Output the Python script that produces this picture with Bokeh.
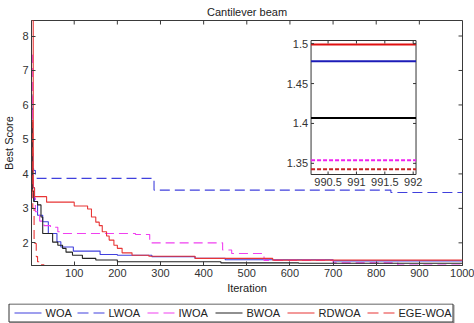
import numpy as np
from bokeh.plotting import figure
from bokeh.layouts import column
from bokeh.models import Range1d, FixedTicker
from bokeh.embed import file_html
from bokeh.resources import INLINE
from bokeh.core.properties import value

# ---------------- data (step breakpoints: iteration, best score) ----------------
series_names = ["WOA", "LWOA", "IWOA", "BWOA", "RDWOA", "EGE-WOA"]

iter_woa = [1, 2, 4, 8, 15, 27, 40, 60, 69, 98, 160, 200, 280, 380, 450, 700, 1000]
best_woa = [6.3, 4.6, 3.6, 3.2, 2.8, 2.61, 2.27, 2.03, 1.88, 1.76, 1.66, 1.64, 1.6, 1.55, 1.51, 1.478, 1.478]

iter_lwoa = [1, 3, 6, 10, 14, 285, 834, 1000]
best_lwoa = [5.9, 4.15, 4.1, 3.9, 3.87, 3.53, 3.46, 3.46]

iter_iwoa = [1, 3, 5, 10, 20, 30, 45, 62, 69, 242, 275, 444, 465, 540, 700, 850, 1000]
best_iwoa = [7.45, 4.0, 3.3, 2.9, 2.63, 2.5, 2.45, 2.32, 2.27, 2.24, 2.0, 1.79, 1.69, 1.49, 1.42, 1.354, 1.354]

iter_bwoa = [1, 3, 6, 15, 23, 27, 50, 62, 73, 81, 96, 119, 150, 200, 440, 620, 1000]
best_bwoa = [5.5, 3.5, 3.2, 3.1, 2.75, 2.27, 2.02, 1.93, 1.84, 1.73, 1.64, 1.55, 1.5, 1.45, 1.42, 1.4067, 1.4067]

iter_rdwoa = [1, 5, 8, 36, 100, 131, 140, 150, 158, 165, 175, 181, 192, 200, 211, 234, 273, 380, 560, 1000]
best_rdwoa = [8.45, 3.6, 3.34, 3.18, 3.07, 2.98, 2.75, 2.6, 2.5, 2.32, 2.2, 2.08, 1.93, 1.84, 1.71, 1.64, 1.61, 1.55, 1.499, 1.499]

iter_ege = [1, 4, 7, 12, 15, 19, 30, 1000]
best_ege = [5.55, 3.0, 1.98, 1.6, 1.45, 1.36, 1.3425, 1.3425]

x_ticks = [100, 200, 300, 400, 500, 600, 700, 800, 900, 1000]
y_ticks = [2, 3, 4, 5, 6, 7, 8]

inset_x_window = [990.2, 992.05]
inset_y_window = [1.336, 1.504]
inset_x_ticks = [990.5, 991, 991.5, 992]
inset_y_ticks = [1.35, 1.4, 1.45, 1.5]
inset_x_labels = ["990.5", "991", "991.5", "992"]
inset_y_labels = ["1.35", "1.4", "1.45", "1.5"]

# ---------------- styles ----------------
main_styles = {
    "WOA": dict(color="#4040dd", dash="solid"),
    "LWOA": dict(color="#4040dd", dash="10 5"),
    "IWOA": dict(color="#f040f0", dash="9 5"),
    "BWOA": dict(color="#222222", dash="solid"),
    "RDWOA": dict(color="#e83535", dash="solid"),
    "EGE-WOA": dict(color="#e83535", dash="9 5"),
}
inset_styles = {
    "WOA": dict(color="#1c1cb8", dash="solid"),
    "LWOA": dict(color="#1c1cb8", dash="solid"),
    "IWOA": dict(color="#f020f0", dash="4 2"),
    "BWOA": dict(color="#000000", dash="solid"),
    "RDWOA": dict(color="#e01010", dash="solid"),
    "EGE-WOA": dict(color="#c82020", dash="4 2"),
}
data = {
    "WOA": (iter_woa, best_woa),
    "LWOA": (iter_lwoa, best_lwoa),
    "IWOA": (iter_iwoa, best_iwoa),
    "BWOA": (iter_bwoa, best_bwoa),
    "RDWOA": (iter_rdwoa, best_rdwoa),
    "EGE-WOA": (iter_ege, best_ege),
}

all_vals = [v for n in series_names for v in data[n][1]]
ymin, ymax = min(all_vals), max(all_vals)
xmin, xmax = 1, 1000

W = 474
H_MAIN, H_LEG = 303, 20
BL, BR, BT, BB = 28, 12, 20, 38
FW, FH = W - BL - BR, H_MAIN - BT - BB
AX = "#3a3a3a"
FONT = "Liberation Sans"

p = figure(width=W, height=H_MAIN, x_range=Range1d(xmin, xmax), y_range=Range1d(ymin, ymax),
           output_backend="svg", toolbar_location=None,
           min_border_left=BL, min_border_right=BR, min_border_top=BT, min_border_bottom=BB,
           title="Cantilever beam")
p.frame_align = False
p.title.align = "center"
p.title.text_font = FONT
p.title.text_font_size = "11px"
p.title.text_font_style = "normal"
p.title.text_color = "#222"
p.title.standoff = 5
p.xgrid.visible = False
p.ygrid.visible = False
p.outline_line_color = AX
p.background_fill_color = "white"
p.border_fill_color = "white"

def style_axis(ax, ticks):
    ax.ticker = FixedTicker(ticks=ticks)
    ax.major_tick_in = 4
    ax.major_tick_out = 0
    ax.minor_tick_line_color = None
    ax.axis_line_color = AX
    ax.major_tick_line_color = AX
    ax.major_label_text_font = FONT
    ax.major_label_text_color = "#333"
    ax.major_label_text_font_size = "11px"
    ax.major_label_standoff = 3
    ax.axis_label_text_font = FONT
    ax.axis_label_text_font_style = "normal"
    ax.axis_label_text_color = "#222"
    ax.axis_label_text_font_size = "11px"

style_axis(p.xaxis[0], x_ticks)
style_axis(p.yaxis[0], y_ticks)
p.xaxis.axis_label = "Iteration"
p.yaxis.axis_label = "Best Score"
p.xaxis.axis_label_standoff = 2
p.yaxis.axis_label_standoff = 4

# mirrored inward ticks on top and right edges (box style)
dx = (xmax - xmin) / FW
dy = (ymax - ymin) / FH
p.segment(x0=x_ticks, x1=x_ticks, y0=[ymax] * len(x_ticks), y1=[ymax - 4 * dy] * len(x_ticks),
          line_color=AX)
p.segment(x0=[xmax] * len(y_ticks), x1=[xmax - 4 * dx] * len(y_ticks), y0=y_ticks, y1=y_ticks,
          line_color=AX)

for n in series_names:
    xs, ys = data[n]
    st = main_styles[n]
    p.step(xs, ys, mode="after", line_color=st["color"], line_dash=st["dash"], line_width=1.1)

# ---------------- inset (mapped into a sub-box of the frame via extra ranges) ----------------
box_l, box_r = 281.5, 387.2      # px from frame left
box_b, box_t = 91.0, 225.0       # px from frame bottom
sx = (inset_x_window[1] - inset_x_window[0]) / (box_r - box_l)
sy = (inset_y_window[1] - inset_y_window[0]) / (box_t - box_b)
x0 = inset_x_window[0] - box_l * sx
y0 = inset_y_window[0] - box_b * sy
p.extra_x_ranges = {"ix": Range1d(x0, x0 + FW * sx)}
p.extra_y_ranges = {"iy": Range1d(y0, y0 + FH * sy)}

ixa, ixb = inset_x_window
iya, iyb = inset_y_window
p.quad(left=[ixa], right=[ixb], bottom=[iya], top=[iyb], fill_color="white",
       line_color="#333", line_width=1, x_range_name="ix", y_range_name="iy")

def value_at(n, it):
    xs, ys = data[n]
    v = ys[0]
    for a, b in zip(xs, ys):
        if a <= it:
            v = b
    return v

for n in series_names:
    v = value_at(n, 991)
    if iya <= v <= iyb:
        st = inset_styles[n]
        p.segment(x0=[ixa], x1=[ixb], y0=[v], y1=[v], line_color=st["color"],
                  line_dash=st["dash"], line_width=2, x_range_name="ix", y_range_name="iy")

tl = 3.0
p.segment(x0=inset_x_ticks, x1=inset_x_ticks, y0=[iya] * 4, y1=[iya + tl * sy] * 4,
          line_color="#333", x_range_name="ix", y_range_name="iy")
p.segment(x0=inset_x_ticks, x1=inset_x_ticks, y0=[iyb] * 4, y1=[iyb - tl * sy] * 4,
          line_color="#333", x_range_name="ix", y_range_name="iy")
p.segment(x0=[ixa] * 4, x1=[ixa + tl * sx] * 4, y0=inset_y_ticks, y1=inset_y_ticks,
          line_color="#333", x_range_name="ix", y_range_name="iy")
p.segment(x0=[ixb] * 4, x1=[ixb - tl * sx] * 4, y0=inset_y_ticks, y1=inset_y_ticks,
          line_color="#333", x_range_name="ix", y_range_name="iy")
p.text(x=inset_x_ticks, y=[iya - 3 * sy] * 4, text=inset_x_labels, text_align="center",
       text_baseline="top", text_font=value(FONT), text_font_size="11px", text_color="#333",
       x_range_name="ix", y_range_name="iy")
p.text(x=[ixa - 3 * sx] * 4, y=inset_y_ticks, text=inset_y_labels, text_align="right",
       text_baseline="middle", text_font=value(FONT), text_font_size="11px", text_color="#333",
       x_range_name="ix", y_range_name="iy")

# ---------------- legend strip: a small pixel-scaled figure below the main one ----------------
lg = figure(width=W, height=H_LEG, x_range=Range1d(0, W), y_range=Range1d(H_LEG, 0),
            output_backend="svg", toolbar_location=None,
            x_axis_location=None, y_axis_location=None,
            min_border_left=0, min_border_right=0, min_border_top=0, min_border_bottom=0)
lg.frame_align = False
lg.xgrid.visible = False
lg.ygrid.visible = False
lg.outline_line_color = None
lg.border_fill_color = "white"
lg.background_fill_color = "white"

# legend box (shadowed bottom/right edge like the original)
lg.quad(left=[8.5], right=[452.5], top=[0.5], bottom=[18.5], fill_color="white",
        line_color="#333", line_width=1)
lg.segment(x0=[9], x1=[453.5], y0=[19.2], y1=[19.2], line_color="#777", line_width=1.5)
lg.segment(x0=[453.3], x1=[453.3], y0=[1.5], y1=[19.5], line_color="#777", line_width=1.2)

leg_line_start = [14, 77, 147, 215, 287, 367]
leg_line_len = 27
leg_gap = 4
leg_y = 9.5
for n, xs0 in zip(series_names, leg_line_start):
    st = main_styles[n]
    dash = "11 5" if st["dash"] != "solid" else "solid"
    lg.segment(x0=[xs0], x1=[xs0 + leg_line_len], y0=[leg_y], y1=[leg_y],
               line_color=st["color"], line_dash=dash, line_width=1.1)
    lg.text(x=[xs0 + leg_line_len + leg_gap], y=[leg_y], text=[n], text_align="left",
            text_baseline="middle", text_font=value(FONT), text_font_size="11px",
            text_color="#222")

layout = column(p, lg, spacing=0)
open("out.html", "w").write(file_html(layout, INLINE))
